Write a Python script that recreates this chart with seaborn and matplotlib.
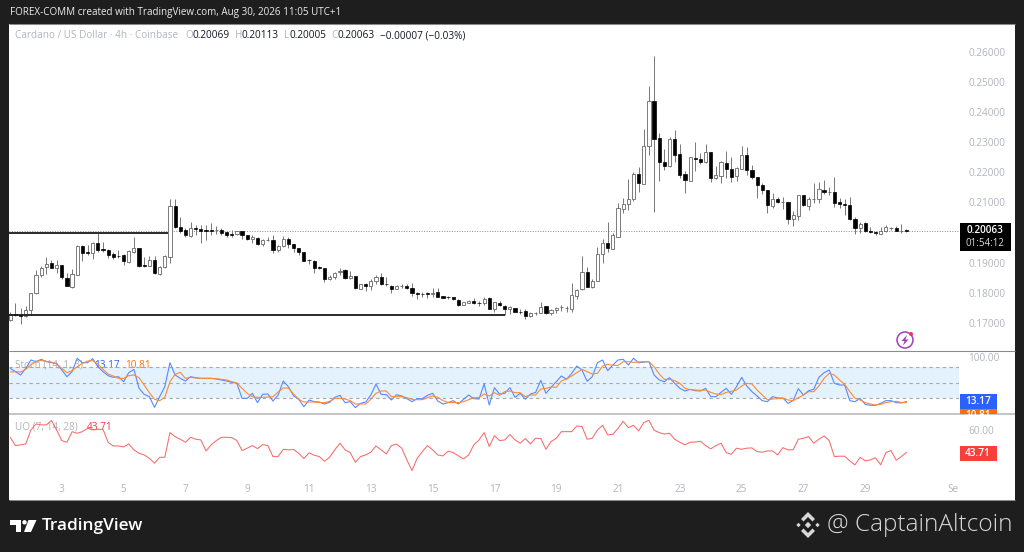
import numpy as np
import pandas as pd
import seaborn as sns
import matplotlib
matplotlib.use("Agg")
import matplotlib.pyplot as plt
from matplotlib.patches import Rectangle, Polygon, Circle

# OHLC in ten-thousandths of a USD
open_e4 = [1709,1728,1725,1721,1741,1798,1857,1884,1897,1881,
1891,1849,1820,1860,1956,1935,1933,1965,1944,1940,
1929,1923,1925,1901,1936,1948,1891,1890,1909,1863,
1884,1917,2087,2019,2008,1989,2014,2012,2007,2007,
2007,2007,2002,1994,1994,2004,1991,1977,1982,1963,
1974,1974,1940,1954,1978,1962,1947,1935,1908,1904,
1884,1881,1844,1853,1868,1875,1848,1855,1813,1828,
1822,1837,1853,1828,1822,1812,1821,1822,1814,1798,
1796,1798,1795,1801,1788,1785,1785,1776,1760,1767,
1773,1767,1765,1781,1745,1767,1757,1745,1748,1737,
1740,1723,1731,1733,1754,1731,1742,1751,1749,1747,
1790,1811,1868,1818,1839,1929,1966,1945,1986,2078,
2095,2111,2193,2162,2288,2438,2313,2235,2220,2311,
2259,2193,2172,2247,2244,2233,2267,2180,2189,2231,
2212,2187,2212,2256,2206,2184,2158,2142,2089,2110,
2101,2102,2046,2056,2123,2089,2111,2112,2142,2135,
2135,2100,2095,2090,2043,2016,2030,2006,2002,1996,
2005,2016,2016,2006,2007]
high_e4 = [1737,1765,1748,1754,1800,1875,1889,1917,1909,1909,
1892,1866,1877,1958,1958,1958,1969,1997,1969,1944,
1936,1942,1929,1940,1986,1949,1917,1922,1922,1889,
1925,2110,2112,2050,2014,2034,2025,2025,2025,2030,
2023,2014,2003,2008,2006,2006,1991,1991,1986,1977,
1986,1990,1958,1988,1984,1962,1947,1935,1911,1909,
1889,1883,1859,1870,1881,1877,1873,1855,1829,1831,
1844,1859,1864,1851,1826,1824,1829,1829,1831,1803,
1803,1803,1814,1814,1790,1790,1787,1778,1769,1774,
1781,1772,1787,1785,1770,1772,1758,1754,1750,1745,
1745,1735,1737,1768,1756,1745,1752,1759,1756,1831,
1812,1922,1884,1844,1951,1977,2034,1997,2099,2113,
2177,2200,2216,2343,2487,2586,2332,2276,2316,2340,
2294,2205,2252,2302,2265,2294,2268,2221,2239,2272,
2250,2216,2287,2283,2224,2184,2165,2142,2130,2117,
2119,2102,2072,2125,2125,2119,2165,2169,2174,2152,
2183,2113,2110,2117,2050,2033,2033,2019,2004,2019,
2025,2019,2022,2027,2011]
low_e4 = [1707,1723,1695,1720,1726,1797,1853,1862,1881,1866,
1845,1822,1814,1857,1906,1925,1911,1936,1936,1914,
1912,1914,1893,1897,1933,1886,1886,1889,1862,1857,
1881,1897,2014,1997,1986,1984,1991,1966,1975,1991,
1995,1991,1984,1986,1991,1977,1975,1964,1958,1956,
1972,1931,1934,1953,1947,1936,1925,1905,1895,1866,
1877,1836,1842,1845,1859,1845,1845,1813,1812,1807,
1809,1829,1826,1822,1800,1811,1814,1811,1789,1778,
1785,1781,1787,1785,1781,1780,1776,1757,1759,1765,
1761,1757,1759,1745,1736,1756,1726,1729,1735,1729,
1711,1720,1726,1731,1729,1726,1731,1739,1737,1737,
1778,1809,1818,1814,1837,1897,1936,1944,1984,2064,
2075,2106,2136,2161,2257,2067,2172,2207,2219,2235,
2180,2132,2171,2205,2228,2232,2169,2179,2165,2181,
2169,2172,2210,2190,2177,2116,2128,2064,2080,2097,
2077,2027,2023,2040,2088,2075,2097,2097,2127,2124,
2086,2080,2058,2041,1995,1999,2003,1999,1990,1995,
2003,2008,2005,1999,2000]
close_e4 = [1729,1725,1721,1741,1798,1857,1883,1896,1882,1893,
1851,1823,1861,1956,1933,1933,1966,1943,1940,1926,
1919,1921,1904,1937,1947,1889,1889,1907,1864,1885,
1921,2087,2019,2006,1991,2014,2012,2006,2006,2006,
2007,1999,1991,1993,2004,1991,1977,1984,1962,1974,
1975,1942,1956,1978,1962,1947,1934,1905,1907,1882,
1883,1844,1853,1865,1873,1848,1855,1814,1828,1822,
1837,1853,1828,1827,1812,1822,1821,1814,1798,1797,
1795,1797,1800,1787,1783,1784,1778,1760,1768,1772,
1767,1766,1778,1746,1768,1758,1745,1751,1736,1736,
1723,1733,1732,1751,1731,1742,1750,1751,1749,1791,
1810,1868,1820,1839,1929,1966,1947,1990,2080,2095,
2111,2193,2163,2288,2438,2311,2235,2221,2311,2257,
2192,2174,2250,2244,2234,2266,2180,2190,2233,2212,
2185,2214,2256,2206,2183,2157,2141,2090,2110,2101,
2101,2046,2058,2123,2090,2110,2112,2143,2134,2135,
2099,2093,2091,2043,2016,2029,2005,2000,1997,2005,
2017,2016,2006,2006,2006]

stoch_k = [78,71.5,65,78,94.3,91,95.6,91,89,87.7,
74.7,61.7,71.5,97.5,89,89,96.9,81.2,71.5,63.6,
60.4,61.7,51.9,69.5,76,38.9,27.2,22.6,1.7,22.6,
42.1,89,65,58.4,53.2,61.7,59.7,58.4,58.4,58.4,
57.1,55.2,53.2,50.6,48.7,19.3,19.3,29.1,10.9,27.2,
27.8,14.1,25.8,53.2,42.1,24.5,17.4,3,16.1,12.8,
12.2,8.3,11.5,21.3,25.2,10.9,12.8,1.1,9.6,12.2,
25.8,47.3,27.2,26.5,16.1,26.5,23.9,18.7,12.8,18.7,
18.7,25.2,29.1,14.1,8.3,10.9,14.8,8.3,17.4,25.8,
18.7,18,47.3,6.3,40.2,27.8,29.1,40.2,21.3,29.1,
17.4,27.8,31,54.5,29.1,40.8,51.9,63,56.5,68.2,
82.5,74.7,52.6,61.7,89,94.3,73.4,84.5,94.3,95.6,
84.5,97.5,89,90.3,91,65,55.2,51.9,59.7,48.7,
38.9,33.7,36.9,34.3,33.7,38.9,22.6,22.6,31,38.9,
27.2,42.1,60.4,43.4,32.4,23.9,14.8,12.8,22.6,20,
20,9.6,14.8,38.2,25.8,34.3,36.9,60.4,69.5,74.7,
48.7,45.4,45.4,14.8,12.8,19.3,7.6,5.7,5.7,9.6,
14.8,14.8,10.9,10.2,13.17]
stoch_d = [70.8,71.5,70.8,76,84.5,91,93.6,91.6,90.3,86.4,
78,69.5,73.4,81.2,87.7,92.3,93,86.4,76,66.9,
63,58.4,58.4,63.6,65,59.7,45.4,30.4,17.4,14.8,
21.3,51.9,66.2,70.2,58.4,60.4,59.1,58.4,58.4,58.4,
57.8,56.5,55.2,51.9,49.3,38.9,29.1,22.6,21.3,21.3,
22,22.6,31.7,39.5,39.5,27.8,17.4,12.2,12.2,12.2,
10.9,10.9,13.5,19.3,19.3,18,14.8,8.3,8.3,8.3,
17.4,29.1,33.7,33.7,22.6,22.6,22.6,20.6,17.4,16.7,
16.7,20.6,23.9,21.3,14.8,11.5,10.9,10.9,12.8,16.7,
20.6,20.6,27.8,23.9,30.4,25.2,32.4,33.7,30.4,30.4,
22.6,25.8,25.8,37.6,38.9,41.5,40.8,53.2,57.1,63,
69.5,76,71.5,66.9,68.2,82.5,85.8,83.8,83.8,91,
91,89.7,90.3,91,91,81.2,66.9,56.5,56.5,53.9,
48.7,38.9,36.3,35.6,35,35.6,31,27.8,26.5,31,
33,35.6,43.4,48.7,47.3,35.6,25.8,16.7,18,18.7,
19.3,16.1,14.8,20.6,25.8,32.4,32.4,43.4,58.4,68.2,
65,55.2,46.7,32.4,19.3,16.1,10.9,8.3,6.3,7.6,
10.9,12.8,13.5,11.5,10.81]
uo = [54.7,48.7,49.2,49.9,60,64.4,63.7,63.7,66.8,60,
52.3,51.1,58.8,57.6,58.8,61.2,60,60.5,60.5,50.9,
48.4,48.4,47.7,49.9,45.6,43.1,41.9,39.5,35.9,40.2,
40.2,58.1,55.2,53.3,51.1,54.7,53.3,52.8,44.8,49.2,
52.3,54.7,54.7,54.5,52.3,45.1,46.8,48.7,46.5,49.4,
48.7,40.7,40.7,46,45.6,45.8,43.1,39.3,43.4,41.7,
40.7,37.3,40.2,45.6,50.4,45.6,43.6,36.6,40.7,41.9,
43.9,48.4,45.6,42.7,48.7,49.7,46.8,38.3,30.6,39.5,
44.3,48.7,45.6,41.9,41.2,44.6,43.6,41.2,39,41.9,
49.2,52.8,58.1,48,55.9,52.3,52.8,56.7,52.8,50.4,
53.8,49.9,54,53.8,46,51.6,54,58.8,58.8,58.8,
62.9,62.5,53.3,54,60,63.4,56.4,56.9,61.2,66.3,
61.7,63.4,59.3,65.4,67,59.8,58.1,57.1,57.6,53.3,
51.1,49.2,51.1,51.3,51.8,48.7,46.3,48.7,50.4,43.6,
42.4,46.8,46,46.8,47,44.3,43.9,44.8,44.8,41.9,
47.2,45.6,45.6,53.3,54,55.2,50.4,53.3,55.7,52.3,
40.7,41,41,37.6,34.7,40.2,37.6,38.3,39.8,34.7,
43.6,45.1,38.1,40.7,43.71]

price_ticks = [0.17,0.18,0.19,0.21,0.22,0.23,0.24,0.25,0.26]
day_labels = ["3","5","7","9","11","13","15","17","19","21","23","25","27","29"]
resistance = 0.1997
support = 0.1724
last_price = 0.20063

W, H = 1024, 552
sns.set_theme(style="white")
plt.rcParams['font.family'] = ['Open Sans', 'DejaVu Sans']
BG = "#1e1e1e"; GREY = "#b2b5be"; BLUE = "#2962ff"; ORANGE = "#ff6d00"; RED = "#f23645"

fig = plt.figure(figsize=(W/100, H/100), dpi=100, facecolor=BG)

def pane(x0, y0, x1, y1, z=1):
    a = fig.add_axes([x0/W, 1-y1/H, (x1-x0)/W, (y1-y0)/H], zorder=z)
    a.patch.set_alpha(0)
    return a

# pixel overlay for the TradingView chrome
bg = pane(0, 0, W, H, 0)
bg.set_xlim(0, W); bg.set_ylim(H, 0); bg.axis("off")
bg.add_patch(Rectangle((9, 24), 1006, 476, fc="white", ec="none"))
for yy, c, lw in [(23.5, "#8a8a8a", 1), (351, "#8a8a8a", 1), (414, "#b5b5b5", 1.5), (500, "#8a8a8a", 1)]:
    bg.plot([9, 1015], [yy, yy], color=c, lw=lw*0.75, solid_capstyle="butt")

bg.text(9.5, 12, "FOREX-COMM created with TradingView.com, Aug 30, 2026 11:05 UTC+1",
        color="#ececec", fontsize=7.1, va="center", ha="left", fontweight="medium")
LEG = 7.2
bg.text(15, 36, "Cardano / US Dollar · 4h · Coinbase", color=GREY, fontsize=LEG, va="center")
for lx, l, vx, v in [(185, "O", 192.5, "0.20069"), (235, "H", 241, "0.20113"),
                     (284, "L", 289, "0.20005"), (331, "C", 337, "0.20063")]:
    bg.text(lx, 36, l, color=GREY, fontsize=LEG, va="center")
    bg.text(vx, 36, v, color="#131722", fontsize=LEG, va="center")
bg.text(380, 36, "−0.00007 (−0.03%)", color="#131722", fontsize=LEG, va="center")
bg.text(15, 365, "Stoch (14, 1, 3)", color=GREY, fontsize=LEG, va="center")
bg.text(94, 365, "13.17", color=BLUE, fontsize=LEG, va="center")
bg.text(125, 365, "10.81", color=ORANGE, fontsize=LEG, va="center")
bg.text(15, 427, "UO (7, 14, 28)", color=GREY, fontsize=LEG, va="center")
bg.text(87, 427, "43.71", color=RED, fontsize=LEG, va="center")

# candles
x = np.arange(len(close_e4))
df = pd.DataFrame({"i": x, "open": np.array(open_e4)/1e4, "high": np.array(high_e4)/1e4,
                   "low": np.array(low_e4)/1e4, "close": np.array(close_e4)/1e4,
                   "k": stoch_k, "d": stoch_d, "uo": uo})
XLIM = (-0.25, 184.2)
ax = pane(9, 24, 959, 351)
ax.set_xlim(*XLIM); ax.set_ylim(0.1606, 0.26926)
ax.vlines(df.i, df.low, df.high, color="#7a7a7a", lw=0.72, zorder=2)
up = df.close >= df.open
bot = df[["open", "close"]].min(axis=1); hgt = (df.close - df.open).abs()
ax.bar(df.i[~up], hgt[~up], bottom=bot[~up], width=0.62, color="black", edgecolor="black", lw=0.5, zorder=3)
ax.bar(df.i[up], hgt[up], bottom=bot[up], width=0.62, color="white", edgecolor="#666666", lw=0.6, zorder=3)
ax.plot([XLIM[0], 30.6], [resistance]*2, color="#1a1a1a", lw=1.3, zorder=4, solid_capstyle="butt")
ax.plot([XLIM[0], 96], [support]*2, color="#1a1a1a", lw=1.3, zorder=4, solid_capstyle="butt")
ax.axhline(last_price, color="#8a8a8a", lw=0.7, ls=(0, (1, 1.6)), zorder=1)
ax.yaxis.tick_right(); ax.set_yticks(price_ticks)
ax.set_yticklabels([f"{p:.5f}" for p in price_ticks], color=GREY, fontsize=7.2)
ax.tick_params(axis="y", length=0, pad=6.5); ax.set_xticks([])
sns.despine(ax=ax, left=True, bottom=True, right=True, top=True)

# stochastic pane
ax2 = pane(9, 351, 959, 414)
ax2.set_xlim(*XLIM); ax2.set_ylim(-11.3, 111.9)
ax2.axhspan(20, 80, color="#2196f3", alpha=0.12, lw=0, zorder=0)
for lv in (20, 50, 80):
    ax2.axhline(lv, color="#a8a8a8", lw=0.8, ls=(0, (3, 3)), zorder=1)
sns.lineplot(data=df, x="i", y="k", ax=ax2, color="#5a88ff", lw=0.8, zorder=3, legend=False, errorbar=None)
sns.lineplot(data=df, x="i", y="d", ax=ax2, color="#ff8a33", lw=0.8, zorder=4, legend=False, errorbar=None)
ax2.yaxis.tick_right(); ax2.set_yticks([100]); ax2.set_yticklabels(["100.00"], color=GREY, fontsize=7.2)
ax2.tick_params(axis="y", length=0, pad=6.5); ax2.set_xticks([])
ax2.set_xlabel(""); ax2.set_ylabel("")
sns.despine(ax=ax2, left=True, bottom=True, right=True, top=True)

# ultimate oscillator pane
ax3 = pane(9, 414, 959, 473)
ax3.set_xlim(*XLIM); ax3.set_ylim(28.8, 71.6)
sns.lineplot(data=df, x="i", y="uo", ax=ax3, color="#f96a6a", lw=0.75, legend=False, errorbar=None)
ax3.yaxis.tick_right(); ax3.set_yticks([60]); ax3.set_yticklabels(["60.00"], color=GREY, fontsize=7.2)
ax3.tick_params(axis="y", length=0, pad=6.5)
ax3.set_xticks(list(np.arange(len(day_labels))*12+10)+[183])
ax3.set_xticklabels(day_labels+["Se"], color=GREY, fontsize=7.2)
ax3.tick_params(axis="x", length=0, pad=8)
ax3.set_xlabel(""); ax3.set_ylabel("")
sns.despine(ax=ax3, left=True, bottom=True, right=True, top=True)

# right-hand value tags
top = pane(0, 0, W, H, 3)
top.set_xlim(0, W); top.set_ylim(H, 0); top.axis("off")
top.add_patch(Rectangle((959.5, 223), 51, 27.5, fc="black", ec="none"))
top.text(985, 230.5, "0.20063", color="white", fontsize=7.2, ha="center", va="center", fontweight="semibold")
top.text(985, 243, "01:54:12", color="#d8d8d8", fontsize=7.0, ha="center", va="center")
top.add_patch(Rectangle((959.5, 393.5), 37.5, 15.5, fc=BLUE, ec="none"))
top.text(978, 401.3, "13.17", color="white", fontsize=7.2, ha="center", va="center", fontweight="semibold")
op = Rectangle((959.5, 409), 37.5, 5, fc=ORANGE, ec="none")
top.add_patch(op)
t = top.text(978, 415, "10.81", color="white", fontsize=7.2, ha="center", va="center", fontweight="semibold")
t.set_clip_path(op)
top.add_patch(Rectangle((959.5, 445.5), 37.5, 15.5, fc="#f5403c", ec="none"))
top.text(978, 453, "43.71", color="white", fontsize=7.2, ha="center", va="center", fontweight="semibold")

# lightning badge
top.add_patch(Circle((905, 340), 8, fc="none", ec="#9c3fc4", lw=1.1))
top.add_patch(Polygon([(907, 335), (901.5, 341), (904.5, 341), (903, 345.5), (908.5, 339.5), (905.5, 339.5)],
                      fc="#9c3fc4", ec="none"))
top.add_patch(Circle((911, 334), 2, fc="#f23645", ec="none"))

# footer marks
for pts in ([(10, 520), (21, 520), (21, 532), (15.5, 532), (15.5, 524.5), (10, 524.5)],
            [(28.5, 520), (36.5, 520), (31, 532), (24, 532)]):
    top.add_patch(Polygon(pts, fc="white", ec="none"))
top.add_patch(Circle((24.5, 522.3), 2.2, fc="white", ec="none"))
top.text(42, 526, "TradingView", color="white", fontsize=12.4, fontweight="semibold", va="center", ha="left")
cx, cy = 808, 525
D = "#d8d8d8"
def dia(px, py, r):
    top.add_patch(Polygon([(px, py-r), (px+r, py), (px, py+r), (px-r, py)], fc=D, ec="none"))
dia(cx, cy, 3.2); dia(cx-9.5, cy, 2.2); dia(cx+9.5, cy, 2.2)
top.add_patch(Polygon([(cx, cy-13), (cx+7, cy-6), (cx+4.5, cy-3.5), (cx, cy-8), (cx-4.5, cy-3.5), (cx-7, cy-6)], fc=D, ec="none"))
top.add_patch(Polygon([(cx, cy+13), (cx+7, cy+6), (cx+4.5, cy+3.5), (cx, cy+8), (cx-4.5, cy+3.5), (cx-7, cy+6)], fc=D, ec="none"))
top.text(827, 525, "@ CaptainAltcoin", color="#d8d8d8", fontsize=17.6, va="center", ha="left", fontweight="light")

fig.savefig("out.png", dpi=100, facecolor=BG)
